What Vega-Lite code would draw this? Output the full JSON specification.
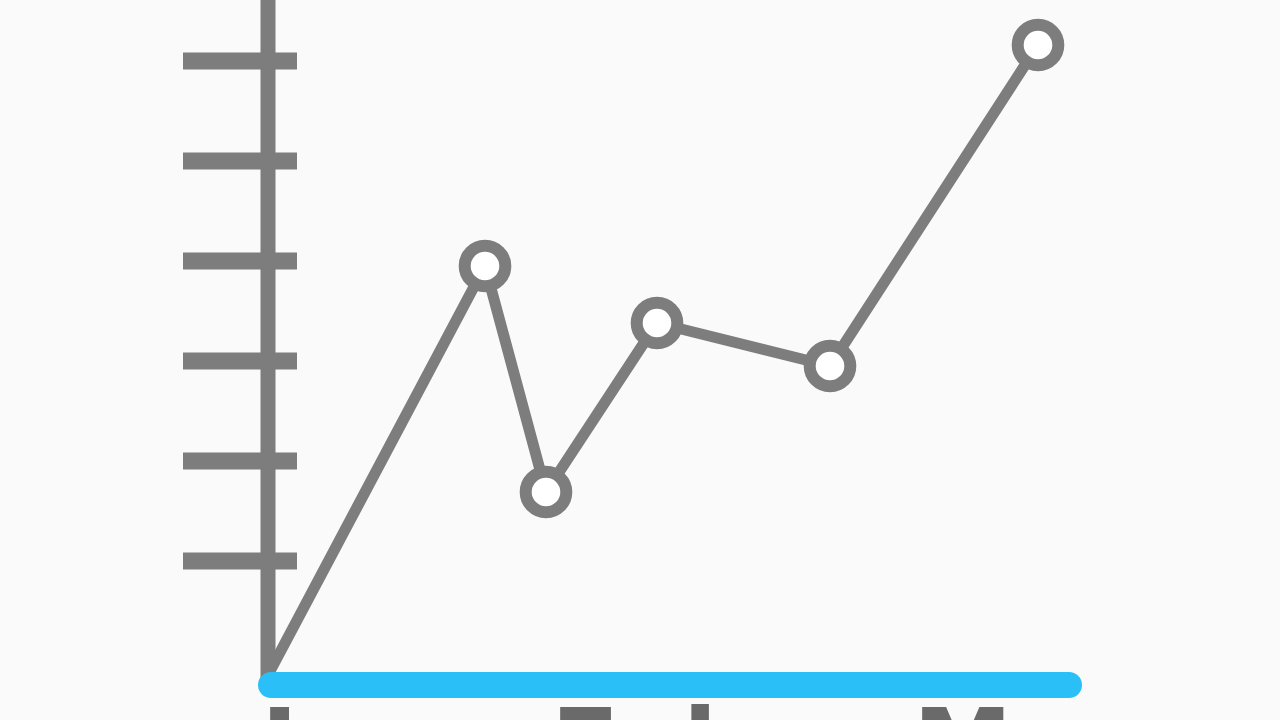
{
  "$schema": "https://vega.github.io/schema/vega-lite/v6.json",
  "width": 1280,
  "height": 720,
  "autosize": {"type": "none"},
  "padding": 0,
  "background": "#fafafa",
  "config": {"view": {"stroke": null}},
  "datasets": {
    "axisLine": [{"x": 0, "y": -0.2, "y2": 6.8}],
    "ticks": [
      {"v": 1, "x": -0.85, "x2": 0.29},
      {"v": 2, "x": -0.85, "x2": 0.29},
      {"v": 3, "x": -0.85, "x2": 0.29},
      {"v": 4, "x": -0.85, "x2": 0.29},
      {"v": 5, "x": -0.85, "x2": 0.29},
      {"v": 6, "x": -0.85, "x2": 0.29}
    ],
    "series": [
      {"t": 0, "value": -0.14, "marker": false},
      {"t": 2.17, "value": 3.95, "marker": true},
      {"t": 2.78, "value": 1.69, "marker": true},
      {"t": 3.89, "value": 3.38, "marker": true},
      {"t": 5.62, "value": 2.95, "marker": true},
      {"t": 7.7, "value": 6.16, "marker": true}
    ],
    "baseline": [{"x": 0.03, "x2": 8.01, "y": -0.24}],
    "months": [
      {"label": "Jan", "x": -0.07},
      {"label": "Feb", "x": 2.83},
      {"label": "Mar", "x": 6.45}
    ]
  },
  "layer": [
    {
      "data": {"name": "axisLine"},
      "mark": {"type": "rule", "color": "#7d7d7d", "strokeWidth": 15, "strokeCap": "butt"},
      "encoding": {
        "x": {"field": "x", "type": "quantitative", "scale": {"domain": [-2.68, 10.12], "nice": false, "zero": false}, "axis": null},
        "y": {"field": "y", "type": "quantitative", "scale": {"domain": [-0.59, 6.61], "nice": false, "zero": false}, "axis": null},
        "y2": {"field": "y2"}
      }
    },
    {
      "data": {"name": "ticks"},
      "mark": {"type": "rule", "color": "#7d7d7d", "strokeWidth": 17, "strokeCap": "butt"},
      "encoding": {
        "x": {"field": "x", "type": "quantitative"},
        "x2": {"field": "x2"},
        "y": {"field": "v", "type": "quantitative"}
      }
    },
    {
      "data": {"name": "series"},
      "mark": {"type": "line", "color": "#7d7d7d", "strokeWidth": 11, "strokeJoin": "round"},
      "encoding": {
        "x": {"field": "t", "type": "quantitative"},
        "y": {"field": "value", "type": "quantitative"}
      }
    },
    {
      "data": {"name": "series"},
      "transform": [{"filter": "datum.marker"}],
      "mark": {"type": "point", "shape": "circle", "filled": false, "fill": "#ffffff", "fillOpacity": 1, "stroke": "#7d7d7d", "strokeWidth": 12, "opacity": 1, "size": 1650},
      "encoding": {
        "x": {"field": "t", "type": "quantitative"},
        "y": {"field": "value", "type": "quantitative"}
      }
    },
    {
      "data": {"name": "baseline"},
      "mark": {"type": "rule", "color": "#2bbff7", "strokeWidth": 26, "strokeCap": "round"},
      "encoding": {
        "x": {"field": "x", "type": "quantitative"},
        "x2": {"field": "x2"},
        "y": {"field": "y", "type": "quantitative"}
      }
    },
    {
      "data": {"name": "months"},
      "mark": {"type": "text", "align": "left", "baseline": "alphabetic", "font": "DejaVu Sans", "fontWeight": "bold", "fontSize": 100, "color": "#6a6a6a"},
      "encoding": {
        "x": {"field": "x", "type": "quantitative"},
        "y": {"datum": -1.19, "type": "quantitative"},
        "text": {"field": "label"}
      }
    }
  ]
}
